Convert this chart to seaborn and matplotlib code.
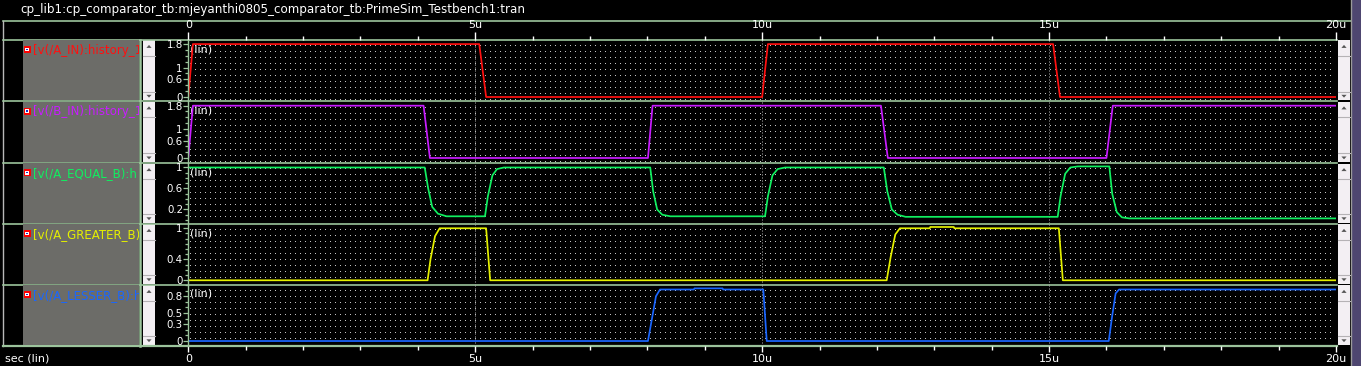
import numpy as np
import pandas as pd
import matplotlib
matplotlib.use("Agg")
import matplotlib.pyplot as plt
import seaborn as sns
from matplotlib.patches import Rectangle, Polygon
from matplotlib.ticker import MultipleLocator, FixedLocator

plt.rcParams['font.family'] = ['DejaVu Sans']

# ---------------- data (time in microseconds, voltage) ----------------
a_in_t = [0, 0.08, 5.07, 5.19, 10.0, 10.1, 15.07, 15.19, 20]
a_in_v = [0, 1.8, 1.8, 0, 0, 1.8, 1.8, 0, 0]

b_in_t = [0, 0.08, 4.1, 4.21, 8.01, 8.09, 12.07, 12.19, 16.0, 16.11, 20]
b_in_v = [0, 1.8, 1.8, 0, 0, 1.8, 1.8, 0, 0, 1.8, 1.8]

eq_t = [0, 4.12, 4.18, 4.25, 4.35, 4.5, 5.17, 5.22, 5.3, 5.38, 5.5,
        8.05, 8.1, 8.17, 8.26, 8.4, 10.05, 10.1, 10.18, 10.27, 10.4,
        12.12, 12.18, 12.26, 12.36, 12.5, 15.15, 15.2, 15.28, 15.37, 15.5,
        16.05, 16.1, 16.18, 16.27, 16.4, 20]
eq_v = [1.0, 1.0, 0.6, 0.25, 0.12, 0.07, 0.07, 0.45, 0.85, 0.97, 1.0,
        1.0, 0.55, 0.2, 0.1, 0.07, 0.07, 0.45, 0.85, 0.97, 1.0,
        1.0, 0.55, 0.2, 0.1, 0.06, 0.06, 0.45, 0.88, 1.0, 1.02,
        1.02, 0.5, 0.15, 0.05, 0.03, 0.03]

gt_t = [0, 4.17, 4.22, 4.3, 4.38, 5.19, 5.26, 12.17, 12.24, 12.32, 12.4,
        12.92, 12.93, 13.34, 13.35, 15.17, 15.24, 20]
gt_v = [0, 0, 0.4, 0.85, 1.0, 1.0, 0, 0, 0.45, 0.88, 1.0,
        1.0, 1.025, 1.025, 1.0, 1.0, 0, 0]

lt_t = [0, 8.01, 8.08, 8.15, 8.22, 8.81, 8.82, 9.31, 9.32, 10.02, 10.08,
        16.04, 16.1, 16.16, 16.22, 20]
lt_v = [0, 0, 0.4, 0.8, 0.92, 0.92, 0.94, 0.94, 0.92, 0.92, 0,
        0, 0.45, 0.85, 0.92, 0.92]

# label texts as visible in the (truncated) label column
signal_names = ["[v(/A_IN):history_1", "[v(/B_IN):history_1",
                "[v(/A_EQUAL_B):h", "[v(/A_GREATER_B):", "[v(/A_LESSER_B):h"]
signal_colors = ["#ff1010", "#c81cff", "#10f060", "#e4f000", "#1a66ff"]
y_tick_vals = [[0, 0.6, 1, 1.8], [0, 0.6, 1, 1.8], [0.2, 0.6, 1],
               [0, 0.4, 1], [0, 0.3, 0.5, 0.8]]
x_major = [0, 5, 10, 15, 20]
x_labels = ["0", "5u", "10u", "15u", "20u"]
title = "cp_lib1:cp_comparator_tb:mjeyanthi0805_comparator_tb:PrimeSim_Testbench1:tran"

series = [(a_in_t, a_in_v), (b_in_t, b_in_v), (eq_t, eq_v), (gt_t, gt_v), (lt_t, lt_v)]

# ---------------- layout (pixels) ----------------
W, H = 1361, 366
GREEN = "#9cc49c"
GRAY = "#6c6c68"
SCROLL = "#f3eff3"
bounds = [39.5, 101, 162.7, 223.5, 284.5, 345.5]
ylims = [(-0.136, 1.956), (-0.162, 1.961), (-0.067, 1.091), (-0.081, 1.092), (-0.080, 1.009)]
minor_steps = [0.2, 0.2, 0.1, 0.1, 0.1]
PX0, PX1 = 188.3, 1336.0

fig = plt.figure(figsize=(W / 100, H / 100), dpi=100, facecolor="black")


def px_rect(x0, y0, x1, y1):
    return [x0 / W, 1 - y1 / H, (x1 - x0) / W, (y1 - y0) / H]


bg = fig.add_axes([0, 0, 1, 1])
bg.set_xlim(0, W)
bg.set_ylim(H, 0)
bg.axis("off")
bg.set_zorder(0)

# title
bg.text(20.7, 9, title, color="white", fontsize=8.6, va="center", ha="left")
# top separator + left frame line + right strip
bg.plot([3, 1351], [20.7, 20.7], color=GREEN, lw=1.2)
bg.plot([3.3, 3.3], [20.7, 346], color="#b8b8b8", lw=1)
bg.add_patch(Rectangle((1352.5, 0), 9, H, facecolor="#4e4670", edgecolor="none"))
bg.plot([1351.5, 1351.5], [0, H], color="#9a9a9a", lw=1)

# horizontal separators
for i, yb in enumerate(bounds):
    lw = 1.6 if i == len(bounds) - 1 else 1.2
    bg.plot([3, 1337.5], [yb, yb], color=GREEN, lw=lw, zorder=3)
# vertical green line next to label column
bg.plot([140.5, 140.5], [39.5, 345.5], color=GREEN, lw=1.8, zorder=3)


def scrollbar(x0, x1, top, bot):
    bg.add_patch(Rectangle((x0, top + 0.8), x1 - x0, bot - top - 1.6,
                           facecolor=SCROLL, edgecolor="none", zorder=2))
    cx = (x0 + x1) / 2
    bg.plot([x0, x1], [top + 16, top + 16], color="#b5b2b5", lw=0.8, zorder=2)
    bg.plot([x0, x1], [bot - 9.5, bot - 9.5], color="#b5b2b5", lw=0.8, zorder=2)
    bg.add_patch(Polygon([(cx - 2.6, top + 8.4), (cx + 2.6, top + 8.4), (cx, top + 5.4)],
                         closed=True, facecolor="#555555", edgecolor="none", zorder=2))
    bg.add_patch(Polygon([(cx - 2.6, bot - 6.2), (cx + 2.6, bot - 6.2), (cx, bot - 3.4)],
                         closed=True, facecolor="#555555", edgecolor="none", zorder=2))


for k in range(5):
    top, bot = bounds[k], bounds[k + 1]
    # label box
    lab = fig.add_axes(px_rect(22.7, top + 0.7, 138.6, bot - 0.7))
    lab.set_xlim(22.7, 138.6)
    lab.set_ylim(bot - 0.7, top + 0.7)
    lab.set_facecolor(GRAY)
    for s in lab.spines.values():
        s.set_visible(False)
    lab.set_xticks([])
    lab.set_yticks([])
    lab.add_patch(Rectangle((23.5, top + 6.6), 7, 7, facecolor="#ff0000", edgecolor="none"))
    lab.add_patch(Rectangle((25.2, top + 8.3), 3.6, 3.6, facecolor="white", edgecolor="none"))
    lab.add_patch(Rectangle((26.3, top + 9.4), 1.4, 1.4, facecolor="#1030d0", edgecolor="none"))
    lab.text(33.3, top + 10.6, signal_names[k], color=signal_colors[k], fontsize=8.5,
             va="center", ha="left", clip_on=True)

    scrollbar(142.7, 155.3, top, bot)
    scrollbar(1337.8, 1350.2, top, bot)

    # dotted lattice
    y = np.floor(top) + 5.5
    while y < bot - 2:
        bg.plot([190, 1334], [y, y], color="#c4c4c4", lw=0.72,
                linestyle=(0, (1, 5)), antialiased=False, zorder=1)
        y += 6
    # (lin)
    bg.text(190, top + 9.5, "(lin)", color="white", fontsize=8, va="center", ha="left", zorder=4)

# ---------------- signal panels ----------------
for k in range(5):
    top, bot = bounds[k], bounds[k + 1]
    ax = fig.add_axes(px_rect(PX0, top, PX1, bot))
    ax.set_zorder(2)
    ax.patch.set_alpha(0)
    t, v = series[k]
    df = pd.DataFrame({"t": t, "v": v})
    sns.lineplot(data=df, x="t", y="v", ax=ax, color=signal_colors[k], linewidth=1.25,
                 estimator=None, sort=False)
    ax.set_xlim(0, 20)
    ax.set_ylim(*ylims[k])
    ax.set_xlabel("")
    ax.set_ylabel("")
    for name, s in ax.spines.items():
        s.set_visible(name == "left")
    ax.spines["left"].set_color(GREEN)
    ax.spines["left"].set_linewidth(1.0)
    for xv in x_major[1:-1]:
        ax.axvline(xv, color="#b0b0b0", lw=0.72, linestyle=(0, (1, 2)), zorder=1)

    ax.yaxis.set_major_locator(FixedLocator(y_tick_vals[k]))
    ax.set_yticklabels(["%g" % yv for yv in y_tick_vals[k]])
    ax.yaxis.set_minor_locator(MultipleLocator(minor_steps[k]))
    ax.tick_params(axis="y", which="major", length=3.3, width=0.9, color=GREEN,
                   labelcolor="white", labelsize=7.4, pad=0.6)
    ax.tick_params(axis="y", which="minor", length=2.2, width=0.9, color=GREEN)

    ax.xaxis.set_major_locator(FixedLocator(x_major))
    ax.xaxis.set_minor_locator(MultipleLocator(1))
    if k == 0:
        ax.xaxis.tick_top()
        ax.set_xticklabels(x_labels)
        ax.tick_params(axis="x", which="major", top=True, bottom=False, length=5.8, width=1.0,
                       color="white", labelcolor="white", labelsize=8, pad=0.8)
        ax.tick_params(axis="x", which="minor", top=True, bottom=False, length=2.9,
                       width=1.0, color="white")
    elif k == 4:
        ax.set_xticklabels(x_labels)
        ax.tick_params(axis="x", which="major", bottom=True, length=4.3, width=1.0,
                       color="white", labelcolor="white", labelsize=8, pad=1.8)
        ax.tick_params(axis="x", which="minor", bottom=True, length=3.1, width=1.0,
                       color="white")
    else:
        ax.tick_params(axis="x", which="both", bottom=False, top=False,
                       labelbottom=False, labeltop=False)

bg.text(5, 358.5, "sec (lin)", color="white", fontsize=8, va="center", ha="left")

fig.savefig("out.png", dpi=100, facecolor="black")
